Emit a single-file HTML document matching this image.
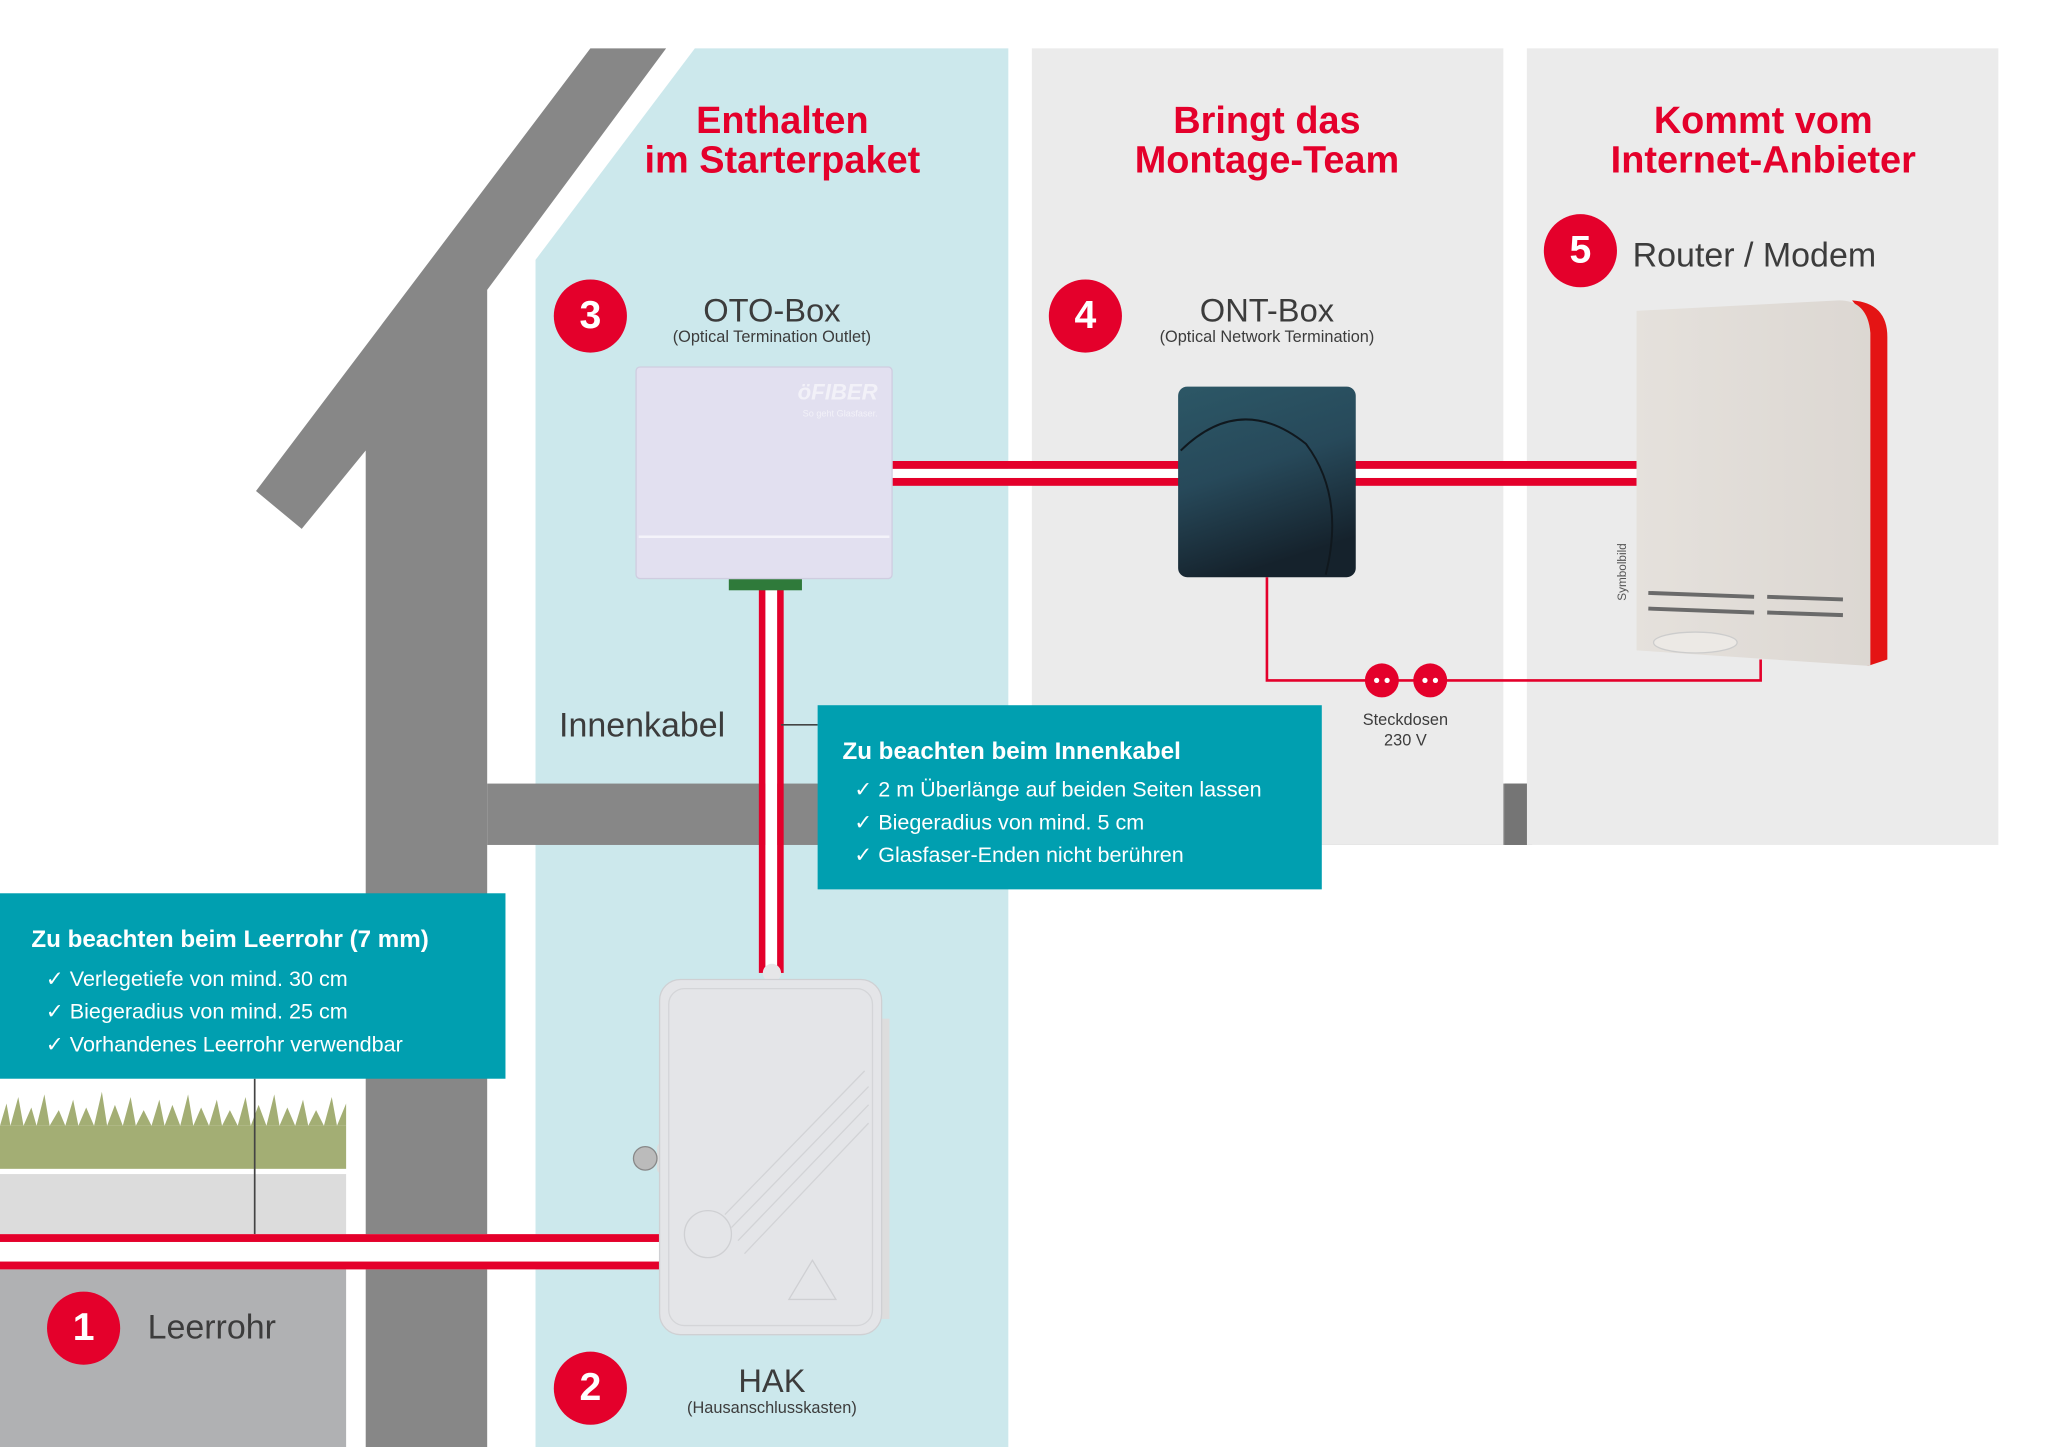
<!DOCTYPE html>
<html><head><meta charset="utf-8"><style>
html,body{margin:0;padding:0;background:#fff;overflow:hidden}
body{width:2048px;height:1447px;position:relative}
#w{position:absolute;left:0;top:0;width:1568px;height:1108px;transform:scale(1.30612,1.30596);transform-origin:0 0;font-family:"Liberation Sans",sans-serif}
.a{position:absolute}
.h{position:absolute;color:#e4002b;font-weight:bold;font-size:29px;line-height:30px;text-align:center;width:360px}
.n{position:absolute;width:56px;height:56px;border-radius:50%;background:#e4002b;color:#fff;font-weight:bold;font-size:30px;line-height:56px;text-align:center}
.t{position:absolute;color:#3c3c3c;text-align:center;width:260px}
.t b{display:block;font-weight:normal;font-size:25px;line-height:26px}
.t i{display:block;font-style:normal;font-size:12.5px;line-height:15px}
.c{position:absolute;background:#009fb0;color:#fff}
.c div{position:absolute;white-space:nowrap;font-size:16.5px}
.c .ti{font-weight:bold;font-size:18.5px}
</style></head><body><div id="w">
<svg class="a" style="left:0;top:0" width="1568" height="1108" viewBox="0 0 1568 1108">
<polygon points="532,37 772,37 772,1108 410,1108 410,199" fill="#cce8ec"/>
<rect x="373" y="600" width="800" height="47" fill="#878787"/>
<rect x="790" y="37" width="361" height="610" fill="#ebebeb"/>
<rect x="1169" y="37" width="361" height="610" fill="#ebebeb"/>
<rect x="1152" y="600" width="17" height="47" fill="#757575"/>
<polygon points="452,37 510,37 373,222 373,1108 280,1108 280,345 231,405 196,376" fill="#878787"/>
<rect x="0" y="862" width="265" height="33" fill="#a3ae74"/>
<path d="M0,862 L5,845 8,862 14,840 18,862 24,848 28,862 34,838 38,862 45,850 50,862 56,842 60,862 66,848 72,862 78,836 82,862 88,846 94,862 100,840 104,862 110,850 116,862 122,842 126,862 132,846 138,862 144,838 148,862 154,848 160,862 166,842 170,862 176,850 182,862 188,840 192,862 198,846 204,862 210,838 214,862 220,848 226,862 232,842 236,862 242,850 248,862 254,840 258,862 265,845 265,862 Z" fill="#a3ae74"/>
<rect x="0" y="899" width="265" height="46" fill="#dcdcdc"/>
<rect x="0" y="972" width="265" height="136" fill="#b0b1b3"/>
<line x1="195" y1="826" x2="195" y2="945" stroke="#444" stroke-width="1.3"/>
<rect x="0" y="945" width="508" height="27" fill="#fff"/>
<rect x="0" y="945" width="508" height="6" fill="#e4002b"/>
<rect x="0" y="966" width="508" height="6" fill="#e4002b"/>
<rect x="683" y="359" width="570" height="7" fill="#fff"/>
<rect x="683" y="353" width="570" height="6" fill="#e4002b"/>
<rect x="683" y="366" width="570" height="6" fill="#e4002b"/>
<rect x="586" y="450" width="9" height="295" fill="#fff"/>
<rect x="581" y="450" width="5" height="295" fill="#e4002b"/>
<rect x="595" y="450" width="5" height="295" fill="#e4002b"/>
<line x1="598" y1="555" x2="626" y2="555" stroke="#444" stroke-width="1.3"/>
<rect x="558" y="442" width="56" height="10" fill="#2f7a3a"/>
<rect x="487" y="281" width="196" height="162" rx="3" fill="#e2e0f0" stroke="#cfcde0"/>
<line x1="489" y1="411" x2="681" y2="411" stroke="#f4f3fa" stroke-width="2"/>
<text x="672" y="306" font-size="17" font-style="italic" fill="#f2f1f8" text-anchor="end" font-weight="bold">öFIBER</text>
<text x="672" y="319" font-size="7" fill="#f2f1f8" text-anchor="end">So geht Glasfaser.</text>
<defs><linearGradient id="g1" x1="0" y1="0" x2="0.3" y2="1"><stop offset="0" stop-color="#2c5766"/><stop offset="0.5" stop-color="#27495a"/><stop offset="1" stop-color="#15222c"/></linearGradient>
<linearGradient id="g2" x1="0" y1="0" x2="1" y2="0"><stop offset="0" stop-color="#e5e1dc"/><stop offset="1" stop-color="#dcd7d2"/></linearGradient></defs>
<rect x="902" y="296" width="136" height="146" rx="7" fill="url(#g1)"/>
<path d="M904,345 Q950,300 1000,340 Q1030,380 1015,440" fill="none" stroke="#10181e" stroke-width="1.5"/>
<polyline points="970,442 970,521 1348,521 1348,505" fill="none" stroke="#e4002b" stroke-width="2"/>
<circle cx="1058" cy="521" r="13" fill="#e4002b"/><circle cx="1095" cy="521" r="13" fill="#e4002b"/>
<circle cx="1054" cy="521" r="2" fill="#fff"/><circle cx="1062" cy="521" r="2" fill="#fff"/>
<circle cx="1091" cy="521" r="2" fill="#fff"/><circle cx="1099" cy="521" r="2" fill="#fff"/>
<path d="M1418,230 Q1445,232 1445,258 L1445,505 L1430,510 L1430,245 Z" fill="#e41414"/>
<path d="M1253,238 L1408,230 Q1430,230 1432,255 L1432,510 L1253,498 Z" fill="url(#g2)"/>
<g stroke="#6a6a6a" stroke-width="3"><line x1="1262" y1="454" x2="1343" y2="457"/><line x1="1353" y1="457" x2="1411" y2="459"/><line x1="1262" y1="466" x2="1343" y2="469"/><line x1="1353" y1="469" x2="1411" y2="471"/></g>
<ellipse cx="1298" cy="492" rx="32" ry="8" fill="#ece9e5" stroke="#ccc"/>
<text x="1245" y="460" font-size="9" fill="#555" transform="rotate(-90 1245 460)">Symbolbild</text>
<rect x="503" y="875" width="12" height="24" rx="4" fill="#ddd"/>
<circle cx="494" cy="887" r="9" fill="#bbb" stroke="#888"/>
<rect x="673" y="780" width="8" height="230" fill="#ddd"/>
<circle cx="591" cy="745" r="7" fill="#e6e6e8"/>
<rect x="505" y="750" width="170" height="272" rx="16" fill="#e4e5e8" stroke="#cfd0d3"/>
<rect x="512" y="757" width="156" height="258" rx="12" fill="none" stroke="#d4d5d8"/>
<circle cx="542" cy="945" r="18" fill="none" stroke="#cfd0d3"/>
<g stroke="#d2d3d6"><line x1="555" y1="930" x2="662" y2="820"/><line x1="560" y1="940" x2="665" y2="832"/><line x1="565" y1="950" x2="665" y2="846"/><line x1="570" y1="960" x2="665" y2="860"/></g>
<polygon points="622,965 640,995 604,995" fill="none" stroke="#cfd0d3"/>
</svg>
<div class="h" style="left:419px;top:78px">Enthalten<br>im Starterpaket</div>
<div class="h" style="left:790px;top:78px">Bringt das<br>Montage-Team</div>
<div class="h" style="left:1170px;top:78px">Kommt vom<br>Internet-Anbieter</div>
<div class="n" style="left:36px;top:989px">1</div>
<div class="n" style="left:424px;top:1035px">2</div>
<div class="n" style="left:424px;top:214px">3</div>
<div class="n" style="left:803px;top:214px">4</div>
<div class="n" style="left:1182px;top:164px">5</div>
<div class="a" style="left:113px;top:1001px;font-size:26px;color:#3c3c3c">Leerrohr</div>
<div class="a" style="left:1250px;top:180px;font-size:26px;color:#3c3c3c">Router / Modem</div>
<div class="a" style="left:428px;top:540px;font-size:26px;color:#3c3c3c">Innenkabel</div>
<div class="t" style="left:461px;top:225px"><b>OTO-Box</b><i>(Optical Termination Outlet)</i></div>
<div class="t" style="left:840px;top:225px"><b>ONT-Box</b><i>(Optical Network Termination)</i></div>
<div class="t" style="left:461px;top:1045px"><b>HAK</b><i>(Hausanschlusskasten)</i></div>
<div class="a" style="left:1026px;top:543px;width:100px;text-align:center;font-size:12.5px;line-height:16px;color:#3c3c3c">Steckdosen<br>230 V</div>
<div class="c" style="left:0;top:684px;width:387px;height:142px">
<div class="ti" style="left:24px;top:24px">Zu beachten beim Leerrohr (7 mm)</div>
<div style="left:35px;top:56px">✓ Verlegetiefe von mind. 30 cm</div>
<div style="left:35px;top:81px">✓ Biegeradius von mind. 25 cm</div>
<div style="left:35px;top:106px">✓ Vorhandenes Leerrohr verwendbar</div>
</div>
<div class="c" style="left:626px;top:540px;width:386px;height:141px">
<div class="ti" style="left:19px;top:24px">Zu beachten beim Innenkabel</div>
<div style="left:28px;top:55px">✓ 2 m Überlänge auf beiden Seiten lassen</div>
<div style="left:28px;top:80px">✓ Biegeradius von mind. 5 cm</div>
<div style="left:28px;top:105px">✓ Glasfaser-Enden nicht berühren</div>
</div>
</div></body></html>
